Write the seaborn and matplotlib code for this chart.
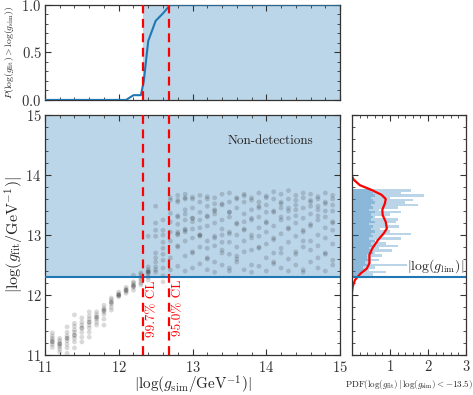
import matplotlib
matplotlib.use("Agg")
import matplotlib.pyplot as plt
from matplotlib.ticker import MultipleLocator, NullFormatter
import numpy as np
import pandas as pd
import seaborn as sns

# --- data ---
g_lim = 12.3
cl_997 = 12.33
cl_950 = 12.68

# columns of simulated couplings and the fitted values found for each
g_sim_cols = [11.1, 11.2, 11.3, 11.4, 11.5, 11.6, 11.7, 11.8, 11.9, 12.0,
              12.1, 12.2, 12.3, 12.4, 12.5, 12.6, 12.7, 12.8, 12.9, 13.0,
              13.1, 13.2, 13.3, 13.4, 13.5, 13.6, 13.7, 13.8, 13.9, 14.0,
              14.1, 14.2, 14.3, 14.4, 14.5, 14.6, 14.7, 14.8, 14.9]
g_fit_cols = [
    [11.13, 11.18, 11.22, 11.22, 11.25, 11.28, 11.32, 11.37],
    [11.05, 11.1, 11.14, 11.18, 11.18, 11.2, 11.24, 11.28],
    [11.03, 11.12, 11.18, 11.24, 11.28, 11.28, 11.32, 11.38, 11.47],
    [11.12, 11.22, 11.28, 11.33, 11.33, 11.38, 11.42, 11.48, 11.53, 11.67],
    [11.22, 11.3, 11.38, 11.45, 11.45, 11.5, 11.55, 11.62],
    [11.3, 11.38, 11.45, 11.5, 11.55, 11.55, 11.6, 11.65, 11.72],
    [11.5, 11.55, 11.6, 11.63, 11.63, 11.67, 11.72],
    [11.5, 11.6, 11.68, 11.72, 11.75, 11.75, 11.78, 11.83],
    [11.75, 11.8, 11.85, 11.88, 11.88, 11.92, 11.95],
    [11.97, 11.99, 12.0, 12.0, 12.02, 12.05],
    [12.03, 12.06, 12.08, 12.08, 12.1, 12.13],
    [12.08, 12.13, 12.15, 12.15, 12.17, 12.2, 12.22, 12.33],
    [12.17, 12.2, 12.24, 12.27, 12.3, 12.34, 12.37],
    [12.25, 12.3, 12.35, 12.38, 12.38, 12.4, 12.42, 12.47, 12.98],
    [12.38, 12.42, 12.47, 12.55, 12.62, 12.7, 12.98, 13.08, 13.2, 13.48],
    [12.22, 12.32, 12.45, 12.58, 12.68, 12.78, 12.88, 13.0, 13.08, 13.25],
    [12.42, 12.62, 12.9, 13.05, 13.22, 13.36, 13.58, 13.62],
    [12.48, 12.8, 12.82, 13.0, 13.02, 13.05, 13.18, 13.3, 13.32, 13.55, 13.58, 13.66],
    [12.4, 12.65, 12.9, 13.05, 13.08, 13.1, 13.25, 13.35, 13.42, 13.6, 13.62, 13.68],
    [12.45, 12.7, 12.72, 12.95, 13.1, 13.22, 13.28, 13.28, 13.45, 13.6, 13.63],
    [12.52, 12.8, 12.98, 13.0, 13.0, 13.12, 13.25, 13.38, 13.55, 13.66],
    [12.42, 12.6, 12.62, 12.78, 12.9, 13.15, 13.3, 13.32, 13.48, 13.6, 13.64],
    [12.38, 12.55, 12.82, 12.95, 12.98, 13.2, 13.35, 13.4, 13.42, 13.52, 13.62],
    [12.5, 12.7, 12.75, 12.88, 13.0, 13.1, 13.25, 13.5, 13.52, 13.68],
    [12.4, 12.45, 12.68, 12.88, 13.02, 13.05, 13.3, 13.38, 13.38, 13.55, 13.7],
    [12.55, 12.6, 12.65, 12.8, 13.0, 13.18, 13.2, 13.45, 13.6, 13.62],
    [12.42, 12.72, 12.9, 13.08, 13.1, 13.22, 13.35, 13.55, 13.65, 13.68],
    [12.38, 12.5, 12.75, 12.95, 13.0, 13.25, 13.28, 13.42, 13.58, 13.62],
    [12.48, 12.78, 12.8, 12.98, 13.12, 13.3, 13.45, 13.48, 13.55, 13.7],
    [12.4, 12.62, 12.85, 13.05, 13.2, 13.22, 13.38, 13.5, 13.62, 13.65],
    [12.52, 12.55, 12.7, 12.92, 12.95, 13.15, 13.38, 13.4, 13.6, 13.72],
    [12.45, 12.7, 12.78, 13.02, 13.25, 13.3, 13.45, 13.52, 13.55, 13.68],
    [12.4, 12.6, 12.88, 13.1, 13.12, 13.28, 13.4, 13.45, 13.6, 13.74],
    [12.5, 12.68, 12.72, 12.98, 13.2, 13.32, 13.42, 13.5, 13.58, 13.66],
    [12.38, 12.42, 12.8, 12.9, 13.05, 13.08, 13.28, 13.45, 13.62, 13.7],
    [12.55, 12.75, 12.9, 13.15, 13.18, 13.35, 13.48, 13.55, 13.58, 13.68],
    [12.45, 12.62, 12.82, 13.0, 13.25, 13.32, 13.42, 13.48, 13.6, 13.64],
    [12.4, 12.68, 12.7, 12.95, 13.12, 13.3, 13.4, 13.52, 13.55, 13.7],
    [12.5, 12.58, 12.85, 13.08, 13.2, 13.22, 13.4, 13.5, 13.6, 13.66],
]

# top panel: probability that the fit lies above the simulated value
p_x = [11.0, 11.5, 12.1, 12.2, 12.3, 12.34, 12.4, 12.5, 12.6, 12.7, 13.0, 14.0, 15.0]
p_y = [0.0, 0.0, 0.0, 0.05, 0.05, 0.2, 0.62, 0.83, 0.91, 1.0, 1.0, 1.0, 1.0]

# right panel: histogram of fits for log(g_sim) < -13.5 and its KDE
hist_edges = [12.32 + 0.04 * i for i in range(37)]
pdf_a = [0.55, 0.9, 0.45, 0.6, 1.45, 0.5, 0.7, 0.4, 0.8, 0.6, 1.05, 0.7,
         1.2, 0.9, 0.6, 1.3, 0.8, 1.55, 1.0, 0.75, 1.25, 0.9, 1.15, 1.2,
         0.6, 1.0, 1.3, 0.7, 1.2, 1.75, 1.4, 1.6, 1.0, 1.9, 1.3, 1.55]
pdf_b = [0.2, 0.3, 0.35, 0.3, 0.4, 0.35, 0.45, 0.5, 0.4, 0.55, 0.5, 0.45,
         0.55, 0.5, 0.6, 0.45, 0.55, 0.5, 0.6, 0.5, 0.55, 0.45, 0.6, 0.5,
         0.55, 0.5, 0.6, 0.45, 0.55, 0.5, 0.6, 0.55, 0.5, 0.6, 0.55, 0.5]
kde_y = [11.0, 12.0, 12.03, 12.14, 12.25, 12.36, 12.44, 12.53, 12.67, 12.78,
         12.92, 13.03, 13.11, 13.22, 13.33, 13.42, 13.53, 13.6, 13.67, 13.75,
         13.83, 13.92, 13.98, 15.0]
kde_x = [0.0, 0.0, 0.0, 0.02, 0.08, 0.23, 0.39, 0.46, 0.46, 0.54,
         0.69, 0.84, 0.92, 0.89, 0.81, 0.8, 0.87, 0.89, 0.78, 0.52,
         0.21, 0.05, 0.0, 0.0]

# --- style ---
sns.set_style("ticks")
plt.rcParams.update({
    "font.family": "serif",
    "font.serif": ["cmr10", "DejaVu Serif"],
    "mathtext.fontset": "cm",
    "axes.formatter.use_mathtext": True,
    "axes.unicode_minus": False,
    "axes.edgecolor": "0.2",
    "axes.linewidth": 0.9,
    "xtick.direction": "in",
    "ytick.direction": "in",
    "xtick.top": True,
    "ytick.right": True,
    "xtick.color": "0.2",
    "ytick.color": "0.2",
    "xtick.labelcolor": "0.2",
    "ytick.labelcolor": "0.2",
})

shade = "#bcd6e9"
blue = "#1f77b4"

fig = plt.figure(figsize=(4.73, 3.95), dpi=100)
ax_main = fig.add_axes([0.095, 0.101, 0.624, 0.608])
ax_top = fig.add_axes([0.095, 0.747, 0.624, 0.241])
ax_side = fig.add_axes([0.744, 0.101, 0.241, 0.608])

# main scatter
scatter_df = pd.DataFrame({
    "g_sim": [x for x, col in zip(g_sim_cols, g_fit_cols) for _ in col],
    "g_fit": [y for col in g_fit_cols for y in col],
})
ax_main.axhspan(g_lim, 15, color=shade, lw=0, zorder=0)
sns.scatterplot(data=scatter_df, x="g_sim", y="g_fit", ax=ax_main, color="black",
                alpha=0.15, s=12, edgecolor="none", zorder=2)
ax_main.axhline(g_lim, color=blue, lw=1.5, zorder=3)
for cl, label in [(cl_997, r"99.7% CL"), (cl_950, r"95.0% CL")]:
    ax_main.axvline(cl, color="red", ls=(0, (4, 2.5)), lw=1.6, zorder=4)
    ax_main.text(cl + 0.045, 12.25, label, color="red", rotation=90,
                 ha="left", va="top", fontsize=9.5)
ax_main.text(13.48, 14.57, "Non-detections", fontsize=9.5, color="0.15", va="center")
ax_main.set_xlim(11, 15)
ax_main.set_ylim(11, 15)
ax_main.xaxis.set_major_locator(MultipleLocator(1))
ax_main.xaxis.set_minor_locator(MultipleLocator(0.2))
ax_main.yaxis.set_major_locator(MultipleLocator(1))
ax_main.yaxis.set_minor_locator(MultipleLocator(0.2))
ax_main.tick_params(labelsize=10.5, length=4, which="major", pad=2.5)
ax_main.tick_params(axis="x", which="major", pad=3.5)
ax_main.tick_params(length=2, which="minor", direction="in", top=True, right=True)
ax_main.set_xlabel(r"$|\log(g_{\rm sim}/{\rm GeV}^{-1})|$", fontsize=11, labelpad=-1)
ax_main.set_ylabel(r"$|\log(g_{\rm fit}/{\rm GeV}^{-1})|$", fontsize=11.5, labelpad=0)

# top probability panel
ax_top.axvspan(cl_997, 15, color=shade, lw=0, zorder=0)
sns.lineplot(x=p_x, y=p_y, ax=ax_top, color=blue, lw=1.5, zorder=3)
for cl in (cl_997, cl_950):
    ax_top.axvline(cl, color="red", ls=(0, (4, 2.5)), lw=1.6, zorder=4)
ax_top.set_xlim(11, 15)
ax_top.set_ylim(0, 1)
ax_top.xaxis.set_major_locator(MultipleLocator(1))
ax_top.xaxis.set_minor_locator(MultipleLocator(0.2))
ax_top.xaxis.set_major_formatter(NullFormatter())
ax_top.yaxis.set_major_locator(MultipleLocator(0.5))
ax_top.yaxis.set_minor_locator(MultipleLocator(0.1))
ax_top.tick_params(labelsize=10.5, length=4, which="major", pad=2.5)
ax_top.tick_params(length=2, which="minor", direction="in", top=True, right=True)
ax_top.set_ylabel(r"$P(\log(g_{\rm fit})>\log(g_{\rm sim}))$", fontsize=7, labelpad=4)

# side histogram panel
widths = np.diff(hist_edges)
centers = np.array(hist_edges[:-1]) + widths / 2
ax_side.barh(centers, pdf_a, height=widths, color=blue, alpha=0.3, lw=0)
ax_side.barh(centers, pdf_b, height=widths, color=blue, alpha=0.3, lw=0)
sns.lineplot(x=kde_x, y=kde_y, ax=ax_side, color="red", lw=1.6, orient="y", sort=False)
ax_side.axhline(g_lim, color=blue, lw=1.5)
ax_side.text(1.45, 12.49, r"$|\log(g_{\rm lim})|$", fontsize=10, va="center")
ax_side.set_xlim(0, 3)
ax_side.set_ylim(11, 15)
ax_side.yaxis.set_major_locator(MultipleLocator(1))
ax_side.yaxis.set_minor_locator(MultipleLocator(0.2))
ax_side.yaxis.set_major_formatter(NullFormatter())
ax_side.set_xticks([1, 2, 3])
ax_side.set_xticks(np.arange(0, 3.01, 0.2), minor=True)
ax_side.tick_params(labelsize=10.5, length=4, which="major", pad=2.5)
ax_side.tick_params(length=2, which="minor", direction="in", top=True, right=True)
ax_side.set_xlabel(r"${\rm PDF}(\log(g_{\rm fit})\,|\,\log(g_{\rm sim})<-13.5)$",
                   fontsize=6.5, labelpad=3)
ax_side.set_ylabel("")

fig.savefig("out.png", dpi=100)
